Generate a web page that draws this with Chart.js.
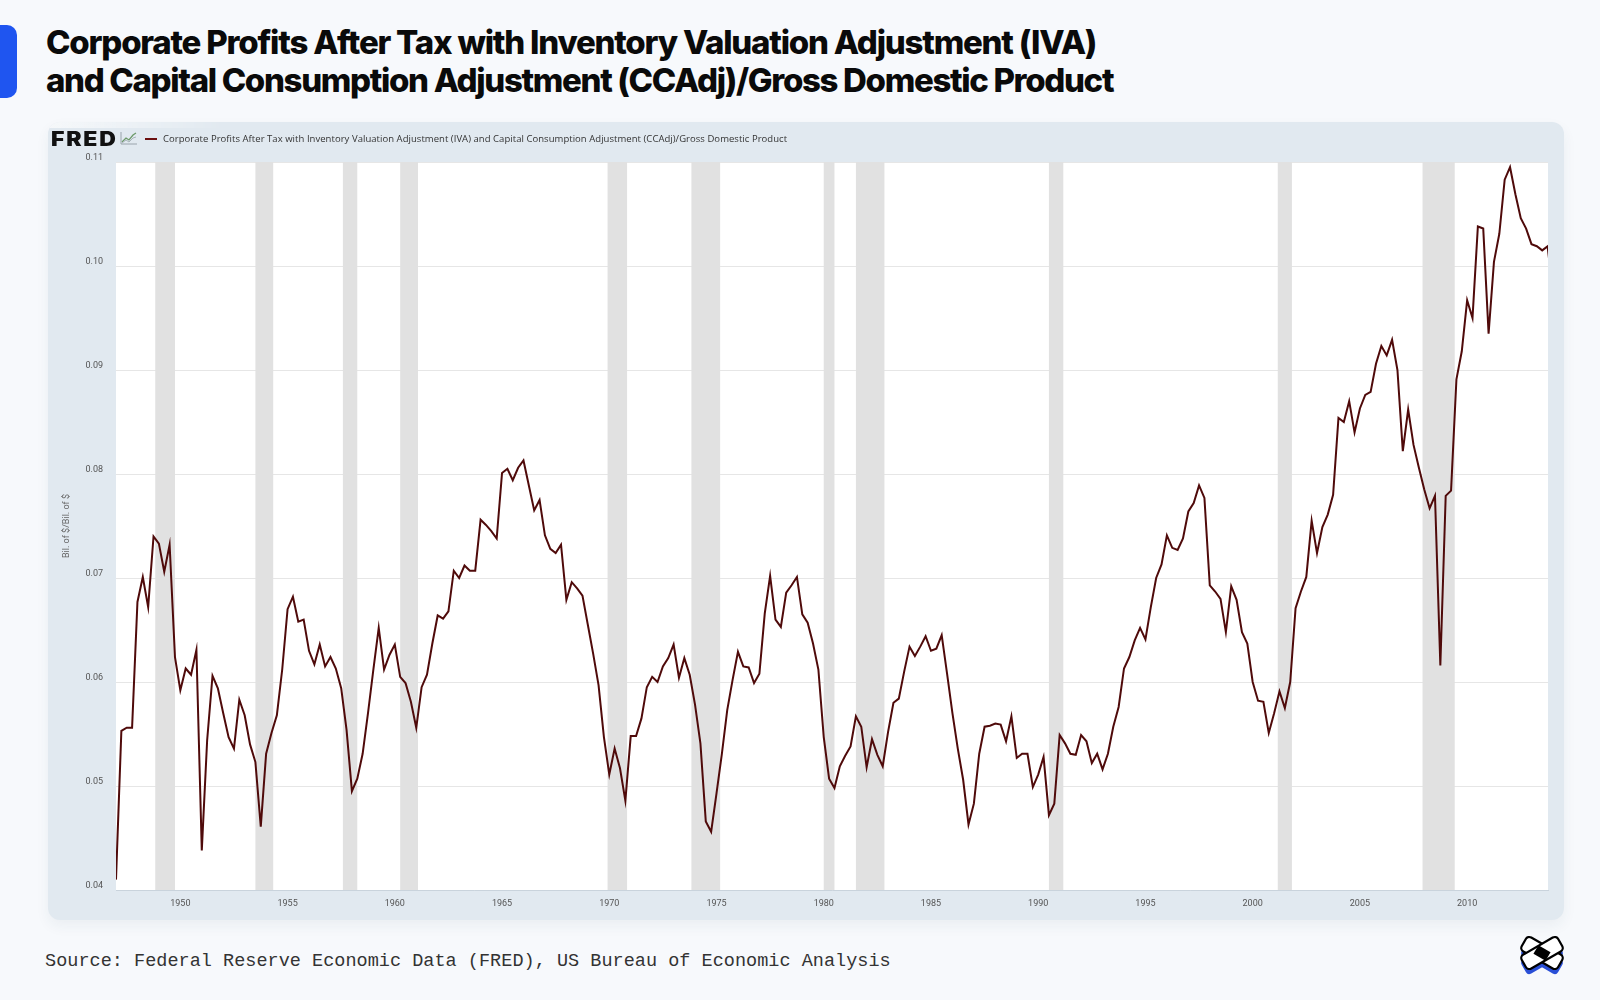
<!DOCTYPE html>
<html>
<head>
<meta charset="utf-8">
<title>Corporate Profits After Tax / GDP</title>
<script src="https://cdn.jsdelivr.net/npm/chart.js@4.4.1/dist/chart.umd.min.js"></script>
<style>
  html, body { margin: 0; padding: 0; }
  body {
    width: 1600px; height: 1000px; position: relative; overflow: hidden;
    background: #f7f9fc; font-family: Inter, "Liberation Sans", sans-serif;
  }
  .tab { position: absolute; left: -12px; top: 25px; width: 29px; height: 73px; border-radius: 10px; background: #1f55f0; }
  .title { position: absolute; left: 46px; white-space: nowrap; font-family: Inter, sans-serif; font-weight: 800; font-size: 33px; line-height: 1; color: #0a0a0a; }
  #t1 { top: 26px; }
  #t2 { top: 64px; }
  .panel { position: absolute; left: 48px; top: 122px; width: 1516px; height: 798px; background: #e1e9f0; border-radius: 12px; box-shadow: 0 6px 14px rgba(40, 60, 90, 0.06); overflow: hidden; }
  .panel canvas { position: absolute; left: 0; top: 0; }
  .shine { position: absolute; left: 0; top: 0; width: 180px; height: 6px; background: linear-gradient(to right, rgba(255,255,255,0.7), rgba(255,255,255,0)); }
  #fred { position: absolute; left: 3px; top: 8px; font-family: Inter, sans-serif; font-weight: 900; font-size: 23px; line-height: 1; color: #111; white-space: nowrap; transform: scaleY(0.85); transform-origin: 0 0; }
  .fredicon { position: absolute; left: 72px; top: 9px; }
  .legdash { position: absolute; left: 97px; top: 16px; width: 12px; height: 2px; background: #6b0f0f; }
  #legtext { position: absolute; left: 115px; top: 12px; font-family: "Open Sans", sans-serif; font-size: 9.5px; line-height: 1; color: #333; white-space: nowrap; }
  #source { position: absolute; left: 45px; top: 953px; font-family: "Liberation Mono", monospace; font-size: 18.5px; line-height: 1; color: #333; white-space: nowrap; }
  .logo { position: absolute; left: 1516px; top: 934px; }
</style>
</head>
<body>
<div class="tab"></div>
<div class="title" id="t1">Corporate Profits After Tax with Inventory Valuation Adjustment (IVA)</div>
<div class="title" id="t2">and Capital Consumption Adjustment (CCAdj)/Gross Domestic Product</div>

<div class="panel">
  <canvas id="chart" width="1516" height="798"></canvas>
  <div class="shine"></div>
  <div id="fred">FRED</div>
  <svg class="fredicon" width="18" height="14" viewBox="0 0 18 14">
    <path d="M1 13 L17 13 M1 13 L1 1" stroke="#9aa4ac" stroke-width="1" fill="none"/>
    <polyline points="2,11 6,7 9,9 13,4 16,2" stroke="#6d9a6a" stroke-width="1.3" fill="none"/>
    <polyline points="2,12 6,9 9,11 13,7 16,6" stroke="#a9b3ba" stroke-width="1" fill="none"/>
  </svg>
  <div class="legdash"></div>
  <div id="legtext"></div>
</div>

<div id="source">Source: Federal Reserve Economic Data (FRED), US Bureau of Economic Analysis</div>

<svg class="logo" width="52" height="42" viewBox="0 0 52 42">
  <g transform="translate(26,19)">
    <g transform="translate(0,5)" fill="#2a4fd6">
      <rect x="-21" y="-8" width="42" height="16" rx="4" transform="rotate(30)"/>
      <rect x="-21" y="-8" width="42" height="16" rx="4" transform="rotate(-30)"/>
    </g>
    <rect x="-21" y="-8" width="42" height="16" rx="4" transform="rotate(30)" fill="#fff" stroke="#000" stroke-width="2.2"/>
    <rect x="-21" y="-8" width="42" height="16" rx="4" transform="rotate(-30)" fill="#fff" stroke="#000" stroke-width="2.2"/>
    <rect x="-7" y="-5" width="14" height="10" fill="#000" transform="rotate(30)"/>
  </g>
</svg>

<script>
// quarterly series, 1947 Q1 onwards
const startYear = 1947;
const ratio = [
  0.0410, 0.0553, 0.0556, 0.0556, // 1947
  0.0677, 0.0701, 0.0672, 0.0740,
  0.0733, 0.0706, 0.0732, 0.0624,
  0.0592, 0.0613, 0.0607, 0.0631, // 1950
  0.0438, 0.0544, 0.0606, 0.0594,
  0.0570, 0.0547, 0.0536, 0.0583,
  0.0568, 0.0540, 0.0523, 0.0461,
  0.0531, 0.0551, 0.0568, 0.0612,
  0.0670, 0.0682, 0.0658, 0.0660, // 1955
  0.0630, 0.0617, 0.0636, 0.0615,
  0.0624, 0.0613, 0.0594, 0.0554,
  0.0495, 0.0507, 0.0531, 0.0570,
  0.0612, 0.0652, 0.0612, 0.0626,
  0.0636, 0.0605, 0.0599, 0.0581, // 1960
  0.0556, 0.0595, 0.0607, 0.0637,
  0.0664, 0.0661, 0.0668, 0.0707,
  0.0700, 0.0712, 0.0707, 0.0707,
  0.0756, 0.0751, 0.0745, 0.0738,
  0.0801, 0.0805, 0.0794, 0.0806, // 1965
  0.0813, 0.0789, 0.0765, 0.0775,
  0.0741, 0.0728, 0.0724, 0.0732,
  0.0679, 0.0696, 0.0690, 0.0683,
  0.0655, 0.0627, 0.0597, 0.0547,
  0.0511, 0.0536, 0.0517, 0.0486, // 1970
  0.0548, 0.0548, 0.0565, 0.0595,
  0.0605, 0.0600, 0.0615, 0.0623,
  0.0636, 0.0604, 0.0623, 0.0607,
  0.0578, 0.0541, 0.0466, 0.0456,
  0.0493, 0.0531, 0.0573, 0.0602, // 1975
  0.0629, 0.0615, 0.0614, 0.0599,
  0.0608, 0.0666, 0.0702, 0.0660,
  0.0653, 0.0686, 0.0693, 0.0701,
  0.0665, 0.0657, 0.0637, 0.0612,
  0.0547, 0.0507, 0.0498, 0.0519, // 1980
  0.0529, 0.0538, 0.0567, 0.0557,
  0.0518, 0.0545, 0.0530, 0.0519,
  0.0552, 0.0580, 0.0584, 0.0610,
  0.0634, 0.0625, 0.0634, 0.0644,
  0.0630, 0.0632, 0.0645, 0.0608, // 1985
  0.0570, 0.0536, 0.0506, 0.0463,
  0.0483, 0.0531, 0.0557, 0.0558,
  0.0560, 0.0559, 0.0543, 0.0567,
  0.0527, 0.0531, 0.0531, 0.0499,
  0.0511, 0.0528, 0.0472, 0.0483, // 1990
  0.0549, 0.0541, 0.0531, 0.0530,
  0.0549, 0.0543, 0.0522, 0.0531,
  0.0516, 0.0531, 0.0557, 0.0576,
  0.0613, 0.0624, 0.0640, 0.0652,
  0.0641, 0.0672, 0.0700, 0.0713, // 1995
  0.0741, 0.0729, 0.0727, 0.0738,
  0.0764, 0.0772, 0.0789, 0.0777,
  0.0693, 0.0687, 0.0680, 0.0648,
  0.0692, 0.0679, 0.0648, 0.0637,
  0.0600, 0.0582, 0.0581, 0.0551, // 2000
  0.0570, 0.0591, 0.0575, 0.0600,
  0.0671, 0.0687, 0.0701, 0.0755,
  0.0724, 0.0749, 0.0761, 0.0780,
  0.0854, 0.0850, 0.0870, 0.0840,
  0.0863, 0.0876, 0.0879, 0.0906, // 2005
  0.0923, 0.0914, 0.0929, 0.0900,
  0.0822, 0.0862, 0.0828, 0.0806,
  0.0785, 0.0767, 0.0779, 0.0616,
  0.0779, 0.0784, 0.0891, 0.0918,
  0.0967, 0.0950, 0.1038, 0.1036, // 2010
  0.0935, 0.1004, 0.1031, 0.1083,
  0.1095, 0.1069, 0.1046, 0.1036,
  0.1021, 0.1019, 0.1015, 0.1019,
  0.0975                          // 2014
];

// NBER recessions, start/end as decimal years
const recessions = [
  [1948.83, 1949.75], [1953.50, 1954.33], [1957.58, 1958.25], [1960.25, 1961.08],
  [1969.92, 1970.83], [1973.83, 1975.17], [1980.00, 1980.50], [1981.50, 1982.83],
  [1990.50, 1991.17], [2001.17, 2001.83], [2007.92, 2009.42]
];

const xTickYears = [1950, 1955, 1960, 1965, 1970, 1975, 1980, 1985, 1990, 1995, 2000, 2005, 2010];
const yTickValues = [0.04, 0.05, 0.06, 0.07, 0.08, 0.09, 0.10, 0.11];
const seriesLabel = "Corporate Profits After Tax with Inventory Valuation Adjustment (IVA) and Capital Consumption Adjustment (CCAdj)/Gross Domestic Product";
const axisTitle = "Bil. of $/Bil. of $";

const lineColor = "#4f0a0a";
const tickFont = { family: "Roboto", size: 9 };

document.getElementById("legtext").textContent = seriesLabel;

function fitText(id, target) {
    const el = document.getElementById(id);
    const w = el.offsetWidth;
    el.style.letterSpacing = ((target - w) / el.textContent.length) + "px";
}

fitText("t1", 1049);
fitText("t2", 1067);
fitText("fred", 67);
fitText("legtext", 624);
fitText("source", 846);

const recessionPlugin = {
    id: "recessions",
    beforeDraw: function (chart) {
        const a = chart.chartArea;
        const c = chart.ctx;
        c.save();
        c.fillStyle = "#ffffff";
        c.fillRect(a.left, a.top, a.right - a.left, a.bottom - a.top);
        c.restore();
    },
    beforeDatasetsDraw: function (chart) {
        const a = chart.chartArea;
        const c = chart.ctx;
        const xs = chart.scales.x;
        c.save();
        c.beginPath();
        c.rect(a.left, a.top, a.right - a.left, a.bottom - a.top);
        c.clip();
        c.fillStyle = "#e1e1e1";
        recessions.forEach(function (r) {
            const x1 = xs.getPixelForValue(r[0]);
            const x2 = xs.getPixelForValue(r[1]);
            c.fillRect(x1, a.top, x2 - x1, a.bottom - a.top);
        });
        c.restore();
    }
};

const points = ratio.map(function (v, i) {
    return { x: startYear + i / 4, y: v };
});

new Chart(document.getElementById("chart"), {
    type: "line",
    data: {
        datasets: [{
            label: seriesLabel,
            data: points,
            borderColor: lineColor,
            borderWidth: 2,
            pointRadius: 0,
            tension: 0,
            fill: false
        }]
    },
    options: {
        responsive: false,
        animation: false,
        layout: { padding: { top: 40, right: 16, left: 0, bottom: 0 } },
        plugins: {
            legend: { display: false },
            tooltip: { enabled: false }
        },
        scales: {
            x: {
                type: "linear",
                min: 1947,
                max: 2013.77,
                afterBuildTicks: function (s) {
                    s.ticks = xTickYears.map(function (v) { return { value: v }; });
                },
                afterFit: function (s) { s.height = 30; },
                grid: { drawOnChartArea: false, drawTicks: false },
                border: { display: true, color: "#c9d3dc" },
                ticks: {
                    padding: 8,
                    color: "#555",
                    font: tickFont,
                    maxRotation: 0,
                    autoSkip: false,
                    callback: function (v) { return String(v); }
                }
            },
            y: {
                min: 0.04,
                max: 0.11,
                afterBuildTicks: function (s) {
                    s.ticks = yTickValues.map(function (v) { return { value: v }; });
                },
                afterFit: function (s) { s.width = 68; },
                grid: { color: "#e6e6e6", drawTicks: false },
                border: { display: false },
                ticks: {
                    padding: 13,
                    labelOffset: -4,
                    color: "#555",
                    font: tickFont,
                    callback: function (v) { return v.toFixed(2); }
                },
                title: {
                    display: true,
                    text: axisTitle,
                    color: "#666",
                    font: tickFont,
                    padding: { top: 13, bottom: 0 }
                }
            }
        }
    },
    plugins: [recessionPlugin]
});
</script>
</body>
</html>
